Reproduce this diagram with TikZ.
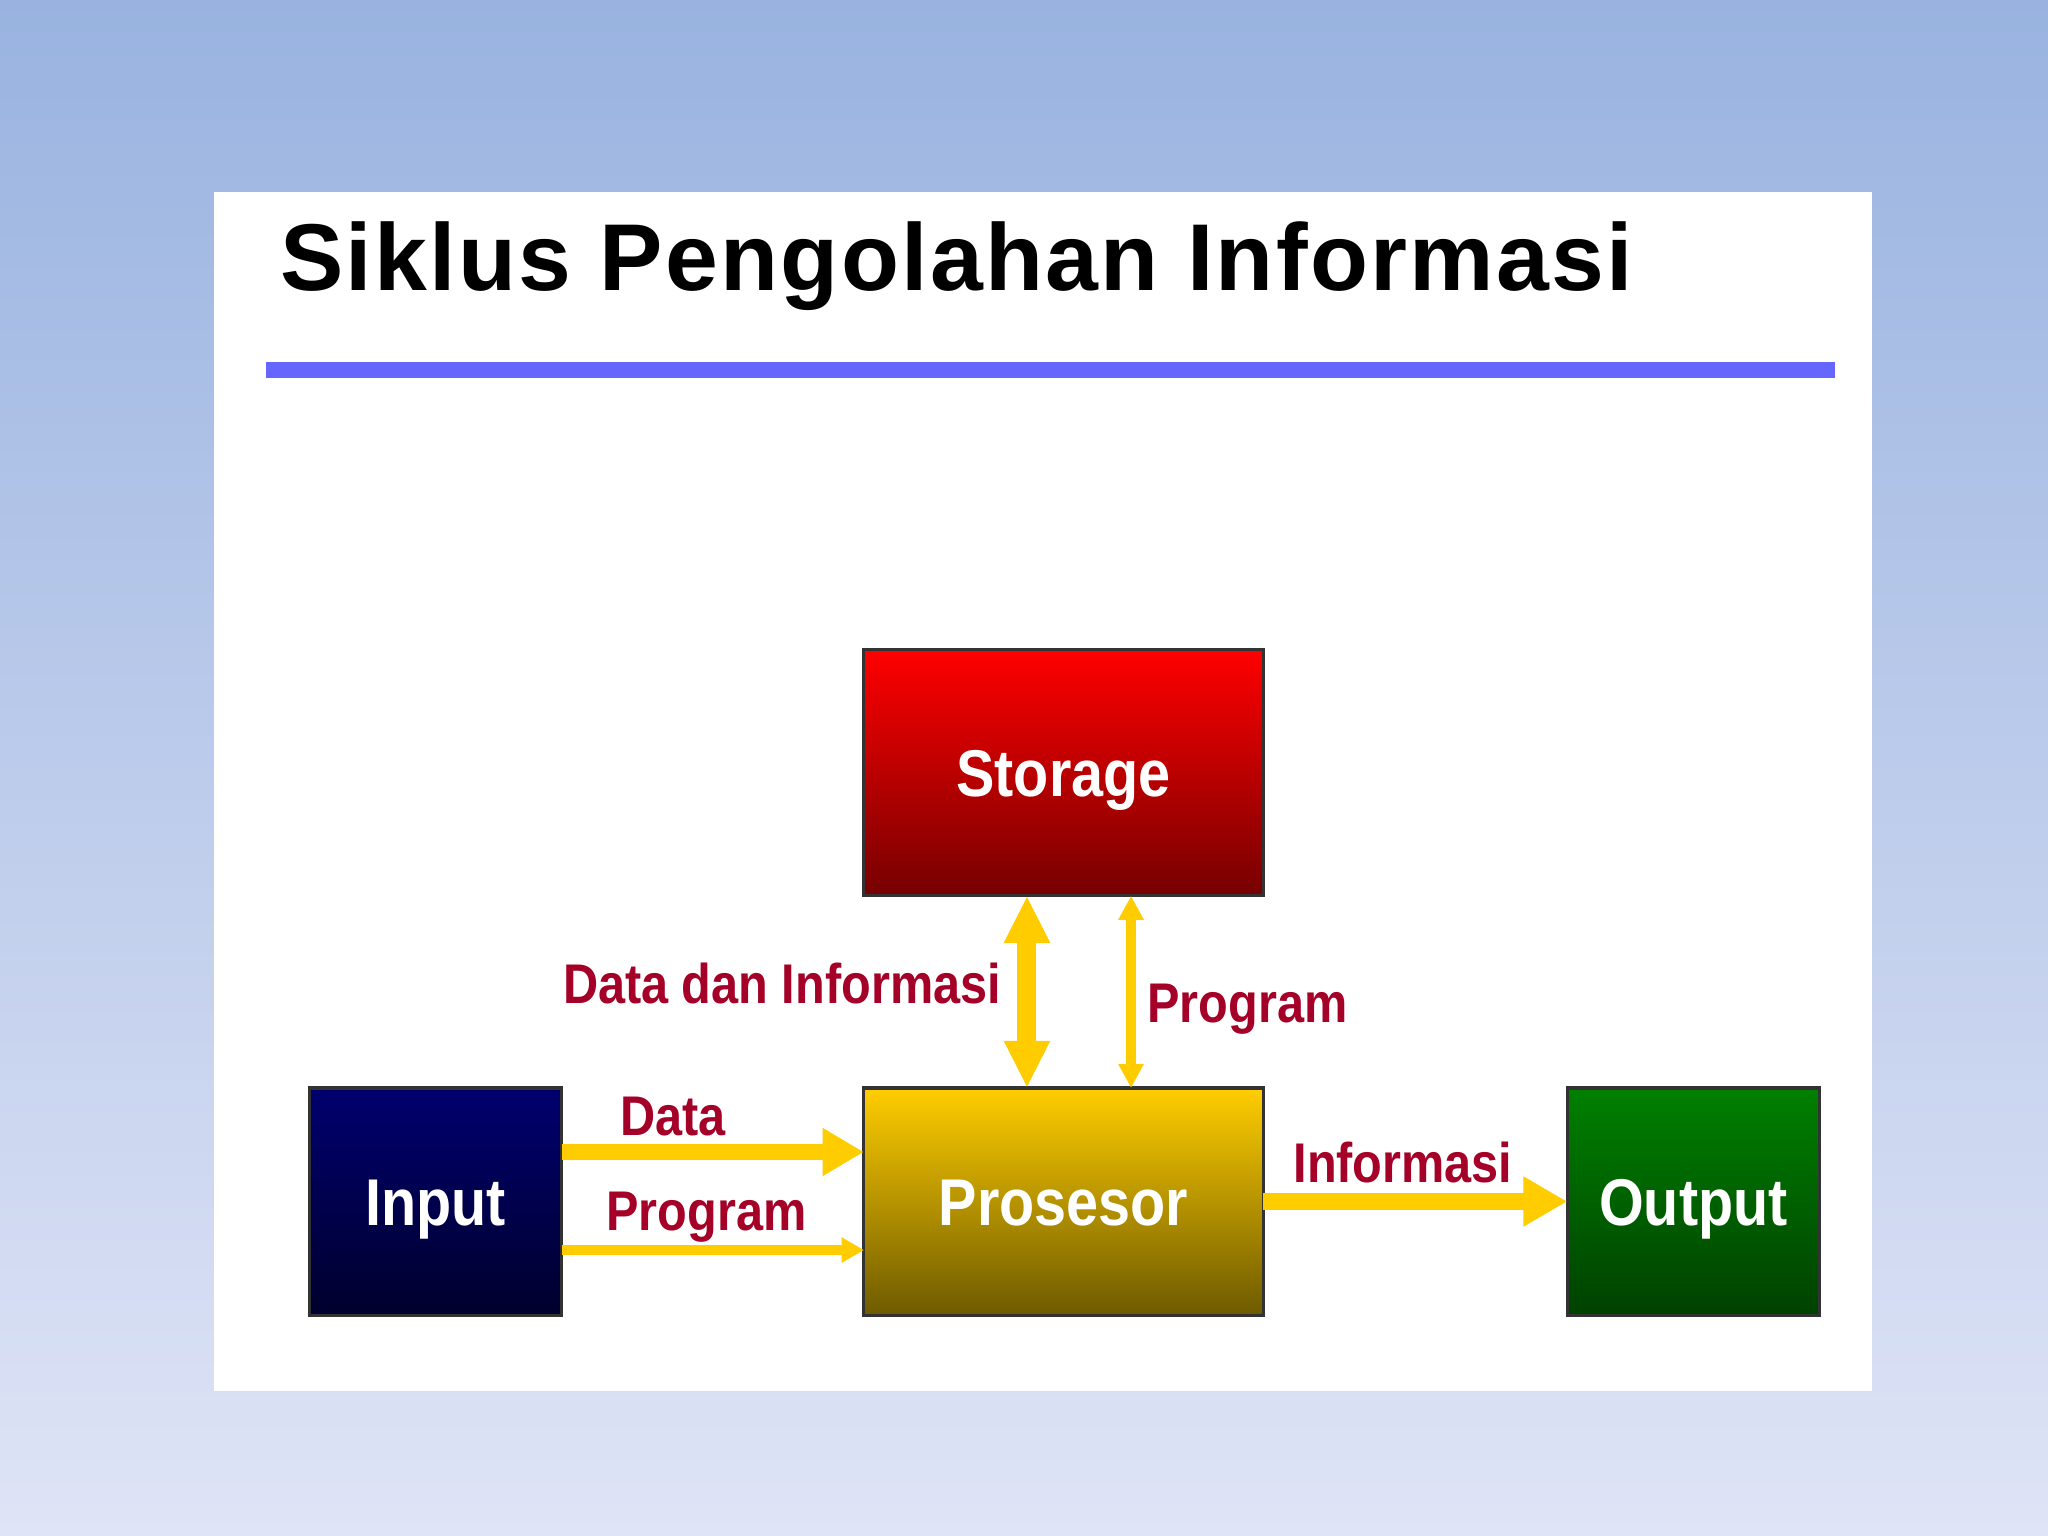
\documentclass[tikz,border=0pt]{standalone}
\usepackage{fontspec}
\setmainfont{Liberation Sans}
\newfontfamily\titlefont{Liberation Sans}[LetterSpace=2.4]
\newfontfamily\narrowfont{Liberation Sans}[FakeStretch=0.87]
\usetikzlibrary{arrows.meta,positioning}

\definecolor{bgtop}{RGB}{153,179,224}
\definecolor{bgbottom}{RGB}{223,228,246}
\definecolor{rulerblue}{RGB}{102,102,255}
\definecolor{arrowyellow}{RGB}{255,204,0}
\definecolor{labelred}{RGB}{165,0,40}

\begin{document}
\begin{tikzpicture}[x=0.01cm, y=-0.01cm,
    box/.style={rectangle, draw=black!80, line width=0.9pt, inner sep=0pt, outer sep=0pt,
      text=white, font=\narrowfont\bfseries\fontsize{18.8pt}{20pt}\selectfont,
      text height=13.4pt, text depth=0pt},
    wide/.style={minimum width=3.99cm, minimum height=2.27cm},
    narrow/.style={minimum width=2.52cm, minimum height=2.27cm},
    lbl/.style={inner sep=0pt, anchor=base, text=labelred,
      font=\narrowfont\bfseries\fontsize{15.9pt}{18pt}\selectfont},
    fatarrow/.style={draw=arrowyellow, line width=4.6pt},
    thinarrow/.style={draw=arrowyellow, line width=3pt}]
      \shade[top color=bgtop, bottom color=bgbottom] (0,0) rectangle (2048,1536);
      \fill[white] (214,192) rectangle (1872,1391);
      \node[anchor=base, inner sep=0pt, font=\titlefont\bfseries\fontsize{27pt}{30pt}\selectfont]
        (title) at (956.5,290) {Siklus Pengolahan Informasi};
      \fill[rulerblue] (266,362) rectangle (1835,378);

      \begin{scope}[node distance=3cm]
        \node[box, wide, top color={rgb,255:red,255;green,205;blue,0},
          bottom color={rgb,255:red,110;green,90;blue,0}] (prosesor) at (1063.5,1201.5) {Prosesor};
        \node[box, wide, minimum height=2.46cm, top color={rgb,255:red,255;green,0;blue,0},
          bottom color={rgb,255:red,118;green,0;blue,0}] (storage) [above=1.92cm of prosesor] {Storage};
        \node[box, narrow, top color={rgb,255:red,0;green,0;blue,110},
          bottom color={rgb,255:red,0;green,0;blue,45}] (input) [left=3.02cm of prosesor] {Input};
        \node[box, narrow, top color={rgb,255:red,0;green,128;blue,0},
          bottom color={rgb,255:red,0;green,65;blue,0}] (output) [right=3.04cm of prosesor] {Output};
      \end{scope}

      \begin{scope}
        \path ([yshift=4.95mm]input.east) edge[fatarrow, -{Triangle[length=11.7pt,width=12.8pt]}]
          ([yshift=4.95mm]prosesor.west);
        \path ([yshift=-4.85mm]input.east) edge[thinarrow, -{Triangle[length=6.3pt,width=6.8pt]}]
          ([yshift=-4.85mm]prosesor.west);
        \path (prosesor.east) edge[fatarrow, -{Triangle[length=12.5pt,width=13.4pt]}] (output.west);
        \path ([xshift=-3.65mm]storage.south) edge[fatarrow, line width=5.4pt,
          {Triangle[length=13.4pt,width=12.2pt]}-{Triangle[length=13.4pt,width=12.2pt]}]
          ([xshift=-3.65mm]prosesor.north);
        \path ([xshift=6.75mm]storage.south) edge[thinarrow, line width=2.8pt,
          {Triangle[length=6.8pt,width=6.8pt]}-{Triangle[length=6.8pt,width=6.8pt]}]
          ([xshift=6.75mm]prosesor.north);
      \end{scope}

      \node[lbl] (lblDataInfo) at (782,1003) {Data dan Informasi};
      \node[lbl] (lblProgStore) at (1247.5,1022) {Program};
      \node[lbl] (lblData) at (673,1135) {Data};
      \node[lbl] (lblProgIn) at (706.5,1230) {Program};
      \node[lbl] (lblInfo) at (1403,1182) {Informasi};
    \end{tikzpicture}
\end{document}
